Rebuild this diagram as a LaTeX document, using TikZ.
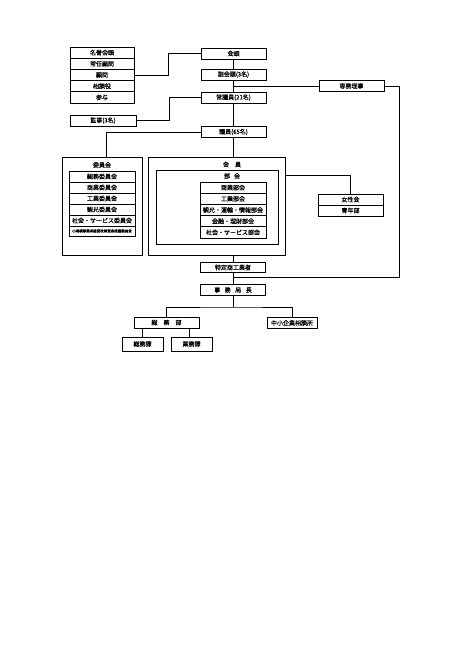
\documentclass[tikz,border=0pt]{standalone}
\usepackage{fontspec}
\setmainfont{Noto Sans CJK JP}[FakeBold=0.2]
\begin{document}
\begin{tikzpicture}[x=1pt,y=-1pt,
  bx/.style={draw,line width=0.75pt,inner sep=0pt,minimum width=65pt,minimum height=11pt,font=\fontsize{6}{6}\selectfont},
  ln/.style={line width=0.75pt},
  ttl/.style={inner sep=0pt,font=\fontsize{6}{6}\selectfont}]
\fill[white] (0,0) rectangle (474,669);
\useasboundingbox (0,0) rectangle (474,669);
% left stack
\node[bx,minimum width=64pt,minimum height=11.2pt] (meiyo) at (102,52.6) {名誉会頭};
\node[bx,minimum width=64pt,minimum height=11.2pt] (jonin) at (102,63.8) {常任顧問};
\node[bx,minimum width=64pt,minimum height=11.2pt] (komon) at (102,75) {顧問};
\node[bx,minimum width=64pt,minimum height=11.2pt] (sodan) at (102,86.2) {相談役};
\node[bx,minimum width=64pt,minimum height=11.2pt] (sanyo) at (102,97.4) {参与};
\node[bx,minimum width=66pt] (kanji) at (103,120.5) {監事(3名)};
% main column
\node[bx] (kaito) at (233.5,53.5) {会頭};
\node[bx] (fuku) at (233.5,74.5) {副会頭(3名)};
\node[bx] (jogiin) at (233.5,97.5) {常議員(21名)};
\node[bx] (senmu) at (351.5,86) {専務理事};
\node[bx,minimum height=10.5pt] (giin) at (233.5,132) {議員(65名)};
% committee box
\node[draw,line width=0.75pt,minimum width=80pt,minimum height=98pt,inner sep=0pt] (iinbox) at (102,206) {};
\node[ttl] (iinttl) at (102,165) {委員会};
\node[bx,minimum width=66pt] (i1) at (102,176.5) {総務委員会};
\node[bx,minimum width=66pt] (i2) at (102,187.5) {商業委員会};
\node[bx,minimum width=66pt] (i3) at (102,198.5) {工業委員会};
\node[bx,minimum width=66pt] (i4) at (102,209.5) {観光委員会};
\node[bx,minimum width=66pt] (i5) at (102,220.5) {社会・サービス委員会};
\node[bx,minimum width=66pt,minimum height=10pt,font=\fontsize{3.5}{3.5}\selectfont] (i6) at (102,231) {小規模事業者経営改善資金推薦委員会};
% member box
\node[draw,line width=0.75pt,minimum width=137pt,minimum height=98pt,inner sep=0pt] (kaiinbox) at (216.5,206) {};
\node[ttl] (kaiinttl) at (232,164.5) {会　員};
\node[draw,line width=0.75pt,minimum width=122pt,minimum height=74pt,inner sep=0pt] (bukaibox) at (217,207) {};
\node[ttl] (bukaittl) at (232,176) {部\hspace{4pt}会};
\node[bx,minimum width=66pt,minimum height=11.2pt] (b1) at (233,187.6) {商業部会};
\node[bx,minimum width=66pt,minimum height=11.2pt] (b2) at (233,198.8) {工業部会};
\node[bx,minimum width=66pt,minimum height=11.2pt] (b3) at (233,210) {観光・運輸・情報部会};
\node[bx,minimum width=66pt,minimum height=11.2pt] (b4) at (233,221.2) {金融・理財部会};
\node[bx,minimum width=66pt,minimum height=11.2pt] (b5) at (233,232.4) {社会・サービス部会};
% women / youth
\node[bx,minimum width=65pt] (josei) at (350.5,199.5) {女性会};
\node[bx,minimum width=65pt] (seinen) at (350.5,210.5) {青年部};
% lower
\node[bx,minimum height=10.5pt] (tokutei) at (233,267.5) {特定商工業者};
\node[bx,minimum height=10.5pt] (jimu) at (233,290) {事\hspace{4.5pt}務\hspace{4.5pt}局\hspace{4.5pt}長};
\node[bx] (somubu) at (166.5,322.5) {総　務　部};
\node[bx,minimum width=50pt] (chusho) at (292,323) {中小企業相談所};
\node[bx,minimum width=41pt,minimum height=14pt] (somuka) at (142.5,344) {総務課};
\node[bx,minimum width=41pt,minimum height=14pt] (gyomuka) at (191.5,344) {業務課};
% junction coordinates
\coordinate (j2) at (233.5,86);
\coordinate (j3) at (233.5,277);
\coordinate (j4) at (233,307);
\coordinate (k1) at (285,175);
% connectors
\draw[ln] (komon.east) -- ++(34,0) |- (kaito.west);
\draw[ln] (kanji.east) -- ++(33,0) |- (jogiin.west);
\draw[ln] (kaito) -- (fuku);
\draw[ln] (fuku) -- (jogiin);
\draw[ln] (j2) -- (senmu.west);
\draw[ln] (senmu.east) -- ++(15,0) |- (j3);
\draw[ln] (jogiin) -- (giin);
\draw[ln] (giin.west) -| ([xshift=4pt]iinbox.north);
\draw[ln] (giin.south) -- (giin.south |- kaiinbox.north);
\draw[ln] (k1) -| (josei.north);
\draw[ln] (kaiinbox.south -| tokutei) -- (tokutei.north);
\draw[ln] (tokutei) -- (jimu);
\draw[ln] (jimu) -- (j4);
\draw[ln] (somubu.north) |- (j4) -| (chusho.north);
\draw[ln] (somubu.south -| somuka) -- (somuka.north);
\draw[ln] ([xshift=-2.5pt]somubu.south -| gyomuka) -- ([xshift=-2.5pt]gyomuka.north);
\end{tikzpicture}
\end{document}
